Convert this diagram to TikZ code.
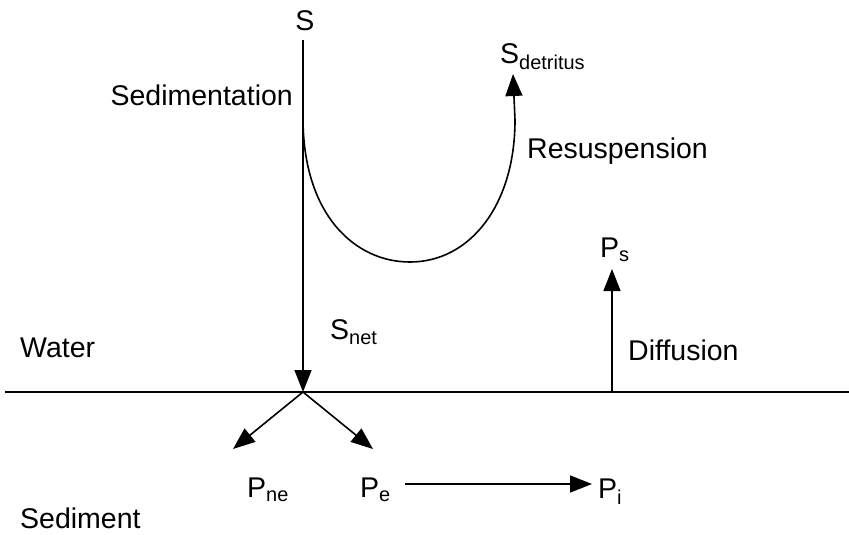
\documentclass[tikz,border=0pt]{standalone}
\usepackage{fontspec}
\setmainfont{Liberation Sans}
\usetikzlibrary{arrows.meta}
\tikzset{lbl/.style={inner sep=0pt,font=\fontsize{28.5}{32}\selectfont},
 ar/.style={line width=1.6pt,-{Triangle[length=22pt,width=17pt]}},
 ln/.style={line width=2pt}}
\begin{document}
\begin{tikzpicture}[x=1pt,y=-1pt]
\useasboundingbox (0,0) rectangle (849,535);
\node[lbl] (S) at (305,21) {S};
\node[lbl,anchor=west] (Sd) at (500,57) {S\textsubscript{detritus}};
\node[lbl,anchor=east] (sed) at (293,95) {Sedimentation};
\node[lbl,anchor=west] (res) at (527,151) {Resuspension};
\node[lbl,anchor=west] (Ps) at (600,250) {P\textsubscript{s}};
\node[lbl,anchor=west] (Sn) at (330,332) {S\textsubscript{net}};
\node[lbl,anchor=west] (wat) at (20,348) {Water};
\node[lbl,anchor=west] (dif) at (628,350) {Diffusion};
\node[lbl,anchor=west] (Pne) at (247,490) {P\textsubscript{ne}};
\node[lbl,anchor=west] (Pe) at (360,490) {P\textsubscript{e}};
\node[lbl,anchor=west] (Pi) at (598,492) {P\textsubscript{i}};
\node[lbl,anchor=west] (sdm) at (20,518) {Sediment};
\coordinate (L0) at (5,392);
\coordinate (L1) at (849,392);
\coordinate (J) at (303,392);
\coordinate (top) at (303,40);
\coordinate (c0) at (303,118);
\coordinate (ct) at (513,74);
\coordinate (pb) at (612,392);
\coordinate (pt) at (612,269);
\coordinate (ne) at (233,449);
\coordinate (e) at (373,449);
\coordinate (a0) at (405,484);
\coordinate (a1) at (592,484);
\draw[ln] (L0) -- (L1);
\draw[ar] (top) -- (J);
\draw[ar] (c0) .. controls (303,215) and (355,262) .. (410,262)
  .. controls (470,262) and (515,205) .. (515,120) -- (ct);
\draw[ar] (pb) -- (pt);
\draw[ar] (J) -- (ne);
\draw[ar] (J) -- (e);
\draw[ar] (a0) -- (a1);
\end{tikzpicture}
\end{document}
